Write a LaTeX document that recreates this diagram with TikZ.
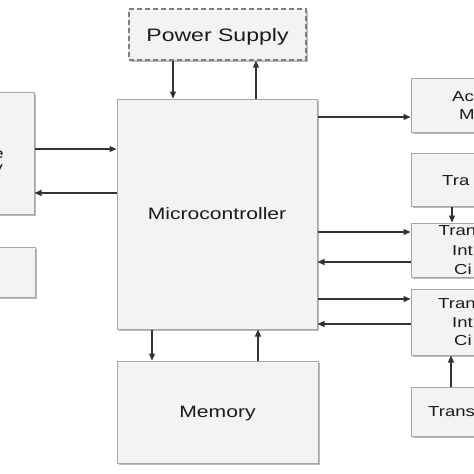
\documentclass[tikz,border=0pt]{standalone}
\usepackage{fontspec}
\usepackage{graphicx}
\setmainfont{Liberation Sans}
\usetikzlibrary{shadows,arrows.meta}
\definecolor{boxfill}{HTML}{F3F3F3}
\definecolor{boxline}{HTML}{A6A6A6}
\definecolor{dashline}{HTML}{7F7F7F}
\definecolor{lnk}{HTML}{333333}
\definecolor{txt}{HTML}{1A1A1A}
\newcommand\wtxt[1]{\scalebox{1.28}[1]{#1}}
\begin{document}
\begin{tikzpicture}[x=1pt,y=-1pt,
  box/.style={draw=boxline, fill=boxfill, line width=1pt, inner sep=0pt,
    drop shadow={shadow xshift=1.6pt, shadow yshift=-1.6pt, fill=black!45, opacity=0.6},
    text=txt, text depth=0pt, font=\fontsize{16.5}{18}\selectfont},
  dashbox/.style={box, draw=dashline, line width=1.4pt, dash pattern=on 5pt off 3pt,
    font=\fontsize{18}{20}\selectfont},
  arr/.style={draw=lnk, line width=1.1pt, -{Triangle[length=7pt,width=6pt]}},
  lbl/.style={inner sep=0pt, text=txt, anchor=base west, font=\fontsize{14.5}{16}\selectfont},
  lblr/.style={lbl, anchor=base east}]
\useasboundingbox (0,0) rectangle (474,474);
\clip (0,0) rectangle (474,474);
\fill[white] (0,0) rectangle (474,474);

% boxes
\node[dashbox, minimum width=177pt, minimum height=51pt] (power) at (217.5,34.5) {\wtxt{Power Supply}};
\node[box, minimum width=200pt, minimum height=230pt] (micro) at (217,214) {\wtxt{Microcontroller}};
\node[box, minimum width=201pt, minimum height=102pt] (memory) at (217.5,412) {\wtxt{Memory}};
\node[box, minimum width=94pt, minimum height=122pt] (left1) at (-13,153) {};
\node[box, minimum width=95pt, minimum height=50pt] (left2) at (-12.5,272) {};
\node[box, minimum width=134pt, minimum height=54pt] (act) at (478,105) {};
\node[box, minimum width=134pt, minimum height=53pt] (tra) at (478,179.5) {};
\node[box, minimum width=134pt, minimum height=54pt] (tic1) at (478,250) {};
\node[box, minimum width=134pt, minimum height=66pt] (tic2) at (478,322) {};
\node[box, minimum width=134pt, minimum height=49pt] (trans) at (478,411.5) {};

% visible parts of the cut-off labels
\node[lblr] (l1a) at (4,158) {\wtxt{e}};
\node[lblr] (l1b) at (3,172) {\wtxt{y}};
\node[lbl] (acta) at (452,101) {\wtxt{Ac}};
\node[lbl] (actb) at (459,119) {\wtxt{M}};
\node[lbl] (traa) at (442,185) {\wtxt{Tra}};
\node[lbl] (tica) at (438.5,235) {\wtxt{Tran}};
\node[lbl] (ticb) at (452,255) {\wtxt{Int}};
\node[lbl] (ticc) at (454,274) {\wtxt{Ci}};
\node[lbl] (ticd) at (438,308) {\wtxt{Tran}};
\node[lbl] (tice) at (452,327) {\wtxt{Int}};
\node[lbl] (ticf) at (454,345) {\wtxt{Ci}};
\node[lbl] (transa) at (428,416) {\wtxt{Trans}};

% guide coordinates
\coordinate (xa) at (173,0);
\coordinate (xb) at (256,0);
\coordinate (xc) at (152,0);
\coordinate (xd) at (258,0);
\coordinate (xe) at (452,0);
\coordinate (xf) at (451,0);
\coordinate (ya) at (0,149);
\coordinate (yb) at (0,193);
\coordinate (yc) at (0,117);
\coordinate (yd) at (0,232);
\coordinate (ye) at (0,262);
\coordinate (yf) at (0,299);
\coordinate (yg) at (0,324);

% connectors
\draw[arr] (power.south -| xa) -- (micro.north -| xa);
\draw[arr] (micro.north -| xb) -- (power.south -| xb);
\draw[arr] (left1.east |- ya) -- (micro.west |- ya);
\draw[arr] (micro.west |- yb) -- (left1.east |- yb);
\draw[arr] (micro.east |- yc) -- (act.west |- yc);
\draw[arr] (tra.south -| xe) -- (tic1.north -| xe);
\draw[arr] (micro.east |- yd) -- (tic1.west |- yd);
\draw[arr] (tic1.west |- ye) -- (micro.east |- ye);
\draw[arr] (micro.east |- yf) -- (tic2.west |- yf);
\draw[arr] (tic2.west |- yg) -- (micro.east |- yg);
\draw[arr] (trans.north -| xf) -- (tic2.south -| xf);
\draw[arr] (micro.south -| xc) -- (memory.north -| xc);
\draw[arr] (memory.north -| xd) -- (micro.south -| xd);
\end{tikzpicture}
\end{document}
